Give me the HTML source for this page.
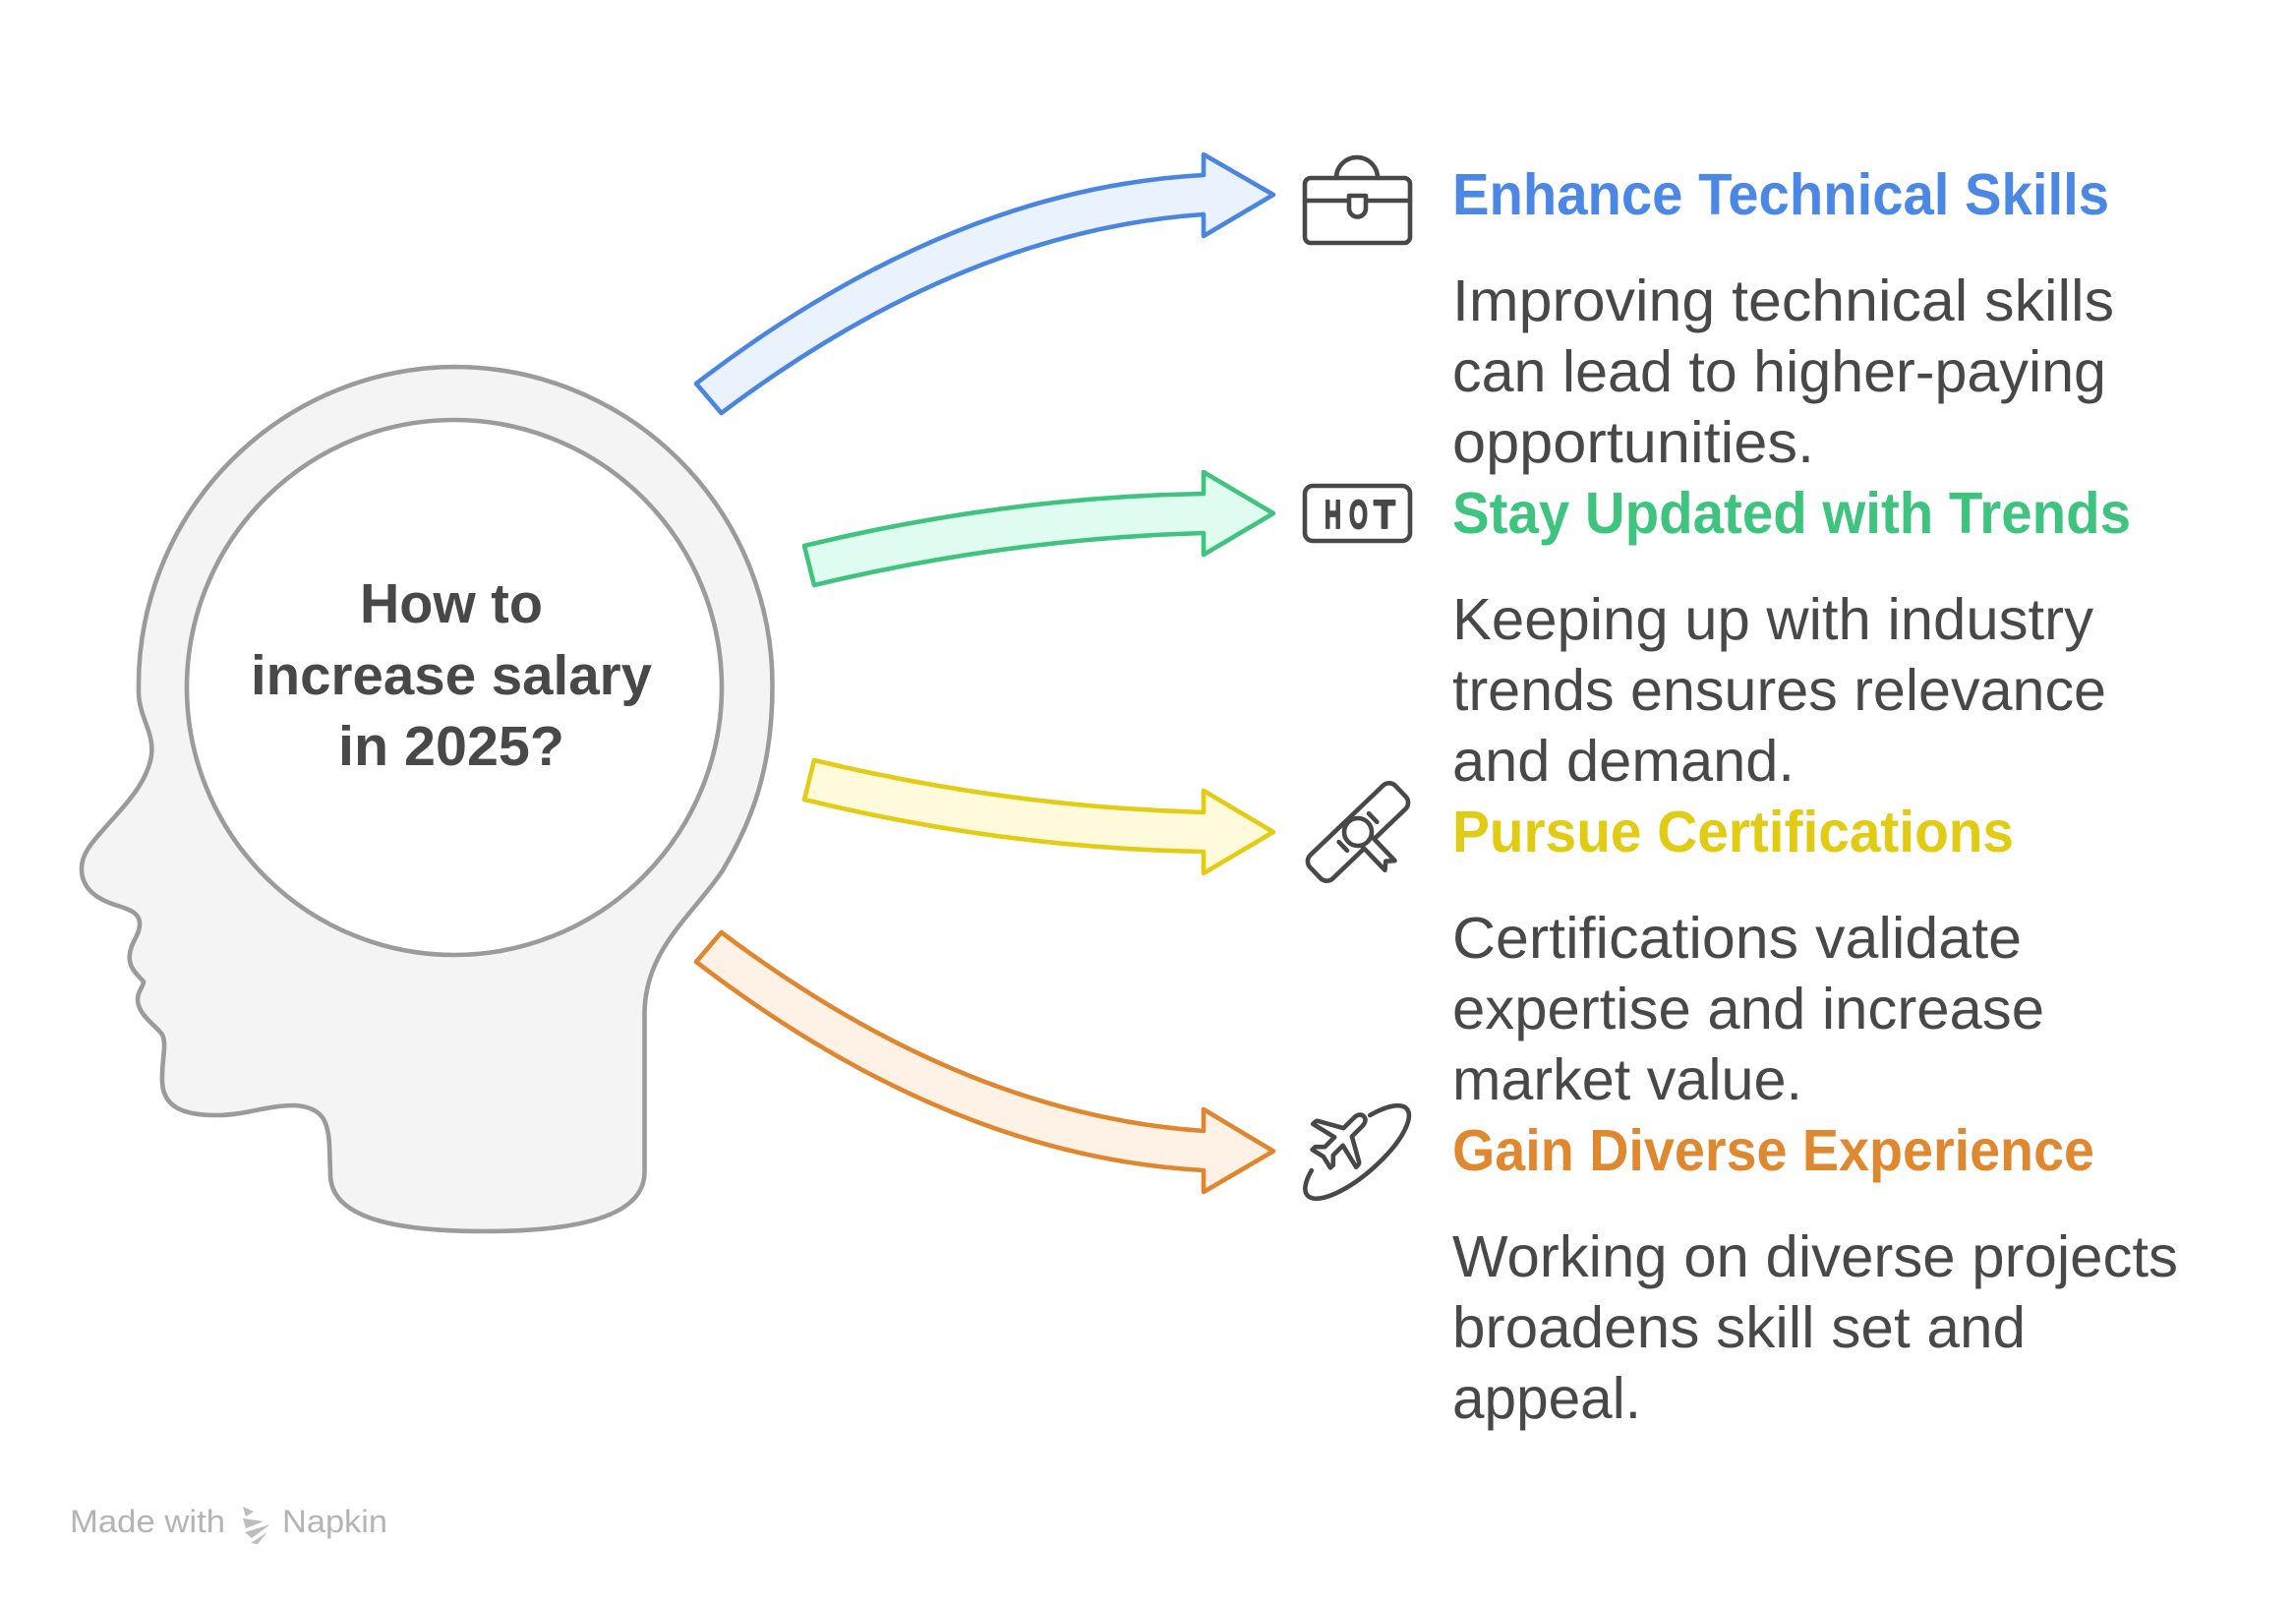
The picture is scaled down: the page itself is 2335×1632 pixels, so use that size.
<!DOCTYPE html>
<html>
<head>
<meta charset="utf-8">
<style>
html,body{margin:0;padding:0;background:#ffffff;width:2335px;height:1632px;overflow:hidden}
svg{display:block}
.t{font-family:"Liberation Sans",Arial,sans-serif;font-weight:700;font-size:59px}
.b{font-family:"Liberation Sans",Arial,sans-serif;font-weight:400;font-size:59px;fill:#484848}
.c{font-family:"Liberation Sans",Arial,sans-serif;font-weight:700;font-size:57px;fill:#484848}
.h{font-family:"Liberation Sans",Arial,sans-serif;font-weight:700;font-size:41px;fill:#484848;stroke:#484848;stroke-width:1.8;stroke-linejoin:round}
.ic{fill:none;stroke:#484848;stroke-width:4.6;stroke-linecap:round;stroke-linejoin:round}
</style>
</head>
<body>
<svg width="2335" height="1632" viewBox="0 0 2335 1632" xmlns="http://www.w3.org/2000/svg">
  <rect x="0" y="0" width="2335" height="1632" fill="#ffffff"/>

  <!-- Head -->
  <path d="M 462 373
           A 323.5 323.5 0 0 1 785.5 698
           C 785.5 780 765 835 735 885
           C 705 930 656 965 655.5 1030
           L 655.5 1192
           C 655.5 1236 590 1252 493 1252
           C 400 1252 336 1238 336 1194
           L 335 1165
           C 334 1140 328 1126 300 1124
           C 270 1124 250 1134 220 1134
           C 185 1134 166 1125 165 1100
           C 164 1080 170 1062 165 1052
           C 158 1042 140 1032 140 1016
           C 140 1008 146 1003 146 998
           C 138 990 130 982 132 970
           C 133 958 143 950 142 938
           C 141 928 132 925 120 921
           C 100 915 84 905 83 885
           C 82 868 95 855 110 838
           C 128 818 150 795 154 768
           C 157 745 142 730 141 705
           L 141 698
           A 323.5 323.5 0 0 1 462 373 Z"
        fill="#f4f4f4" stroke="#9b9b9b" stroke-width="4.6" stroke-linejoin="round"/>
  <circle cx="462" cy="699" r="272" fill="#ffffff" stroke="#9b9b9b" stroke-width="4.6"/>

  <text class="c" x="459" y="633" text-anchor="middle" textLength="186" lengthAdjust="spacingAndGlyphs">How to</text>
  <text class="c" x="459" y="706" text-anchor="middle" textLength="408" lengthAdjust="spacingAndGlyphs">increase salary</text>
  <text class="c" x="459" y="778" text-anchor="middle" textLength="230" lengthAdjust="spacingAndGlyphs">in 2025?</text>

  <!-- Arrows -->
  <path d="M 708 390 Q 966 192 1224 178 L 1224 157 L 1295 198 L 1224 240 L 1224 218 Q 979 235 733.6 420 Z"
        fill="#eaf2fe" stroke="#4a86e0" stroke-width="4.6" stroke-linejoin="round"/>
  <path d="M 818 555 Q 1021 505.5 1224 502 L 1224 480 L 1295 522 L 1224 564 L 1224 542 Q 1026 547.5 828 595 Z"
        fill="#e0fbef" stroke="#3ec47f" stroke-width="4.6" stroke-linejoin="round"/>
  <path d="M 828 773 Q 1026 820.5 1224 826 L 1224 804 L 1295 846 L 1224 888 L 1224 866 Q 1021 862.5 818 813 Z"
        fill="#fefadb" stroke="#e2cc14" stroke-width="4.6" stroke-linejoin="round"/>
  <path d="M 733.6 948 Q 979 1133 1224 1150 L 1224 1128 L 1295 1170.5 L 1224 1212 L 1224 1190 Q 966 1176 708 978 Z"
        fill="#fdf2e5" stroke="#e0862e" stroke-width="4.6" stroke-linejoin="round"/>

  <!-- Icon 1: briefcase -->
  <path class="ic" d="M1359 181 A21 21 0 0 1 1401 181"/>
  <rect class="ic" x="1327" y="181" width="107" height="66" rx="6"/>
  <line class="ic" x1="1327" y1="204" x2="1434" y2="204"/>
  <path d="M1372 199 L1389 199 L1389 212 A8.5 8.5 0 0 1 1372 212 Z" fill="#ffffff" stroke="#484848" stroke-width="4.6" stroke-linejoin="round"/>

  <!-- Icon 2: HOT -->
  <rect class="ic" x="1327" y="494" width="107" height="56" rx="8"/>
  <text class="h" x="1347" y="537" textLength="17" lengthAdjust="spacingAndGlyphs">H</text>
  <text class="h" x="1372" y="537" textLength="19" lengthAdjust="spacingAndGlyphs">O</text>
  <text class="h" x="1397" y="537" textLength="22" lengthAdjust="spacingAndGlyphs">T</text>

  <!-- Icon 3: diploma -->
  <g transform="translate(1381 846) rotate(-43.7)">
    <rect x="-60" y="-16.5" width="120" height="33" rx="9" fill="#ffffff" stroke="#484848" stroke-width="4.6" stroke-linejoin="round"/>
    <line class="ic" x1="-21" y1="-6" x2="-21" y2="6"/>
    <line class="ic" x1="21" y1="-6" x2="21" y2="6"/>
    <path d="M -7 8 L -7 47 L 0 41 L 7 47 L 7 8 Z" fill="#ffffff" stroke="#484848" stroke-width="4.6" stroke-linejoin="round"/>
    <circle cx="0" cy="0" r="14" fill="#ffffff" stroke="#484848" stroke-width="4.6"/>
  </g>

  <!-- Icon 4: airplane with orbit -->
  <g transform="translate(1381 1171) rotate(-41)">
    <path class="ic" d="M 33.5 -19.9 A 67 23 0 1 1 -48.2 -16.5"/>
  </g>
  <g transform="translate(1365 1157) rotate(45)">
    <path d="M 0 -31 C 4 -31 6 -27 6 -23 L 6 -8 L 29 5 Q 31 6 31 9 L 31 11 L 6 5 L 6 19 L 13 26 L 13 30 L 0 27 L -13 30 L -13 26 L -6 19 L -6 5 L -31 11 L -31 9 Q -31 6 -29 5 L -6 -8 L -6 -23 C -6 -27 -4 -31 0 -31 Z"
          fill="#ffffff" stroke="#484848" stroke-width="4.6" stroke-linejoin="round"/>
  </g>

  <!-- Section 1 -->
  <text class="t" x="1477" y="218" fill="#4b88e6" textLength="668" lengthAdjust="spacingAndGlyphs">Enhance Technical Skills</text>
  <text class="b" x="1477" y="326" textLength="673" lengthAdjust="spacingAndGlyphs">Improving technical skills</text>
  <text class="b" x="1477" y="398" textLength="665" lengthAdjust="spacingAndGlyphs">can lead to higher-paying</text>
  <text class="b" x="1477" y="470" textLength="368" lengthAdjust="spacingAndGlyphs">opportunities.</text>

  <!-- Section 2 -->
  <text class="t" x="1477" y="542" fill="#3ec47f" textLength="690" lengthAdjust="spacingAndGlyphs">Stay Updated with Trends</text>
  <text class="b" x="1477" y="650" textLength="652" lengthAdjust="spacingAndGlyphs">Keeping up with industry</text>
  <text class="b" x="1477" y="722" textLength="665" lengthAdjust="spacingAndGlyphs">trends ensures relevance</text>
  <text class="b" x="1477" y="794" textLength="348" lengthAdjust="spacingAndGlyphs">and demand.</text>

  <!-- Section 3 -->
  <text class="t" x="1477" y="866" fill="#e2cb13" textLength="571" lengthAdjust="spacingAndGlyphs">Pursue Certifications</text>
  <text class="b" x="1477" y="974" textLength="579" lengthAdjust="spacingAndGlyphs">Certifications validate</text>
  <text class="b" x="1477" y="1046" textLength="602" lengthAdjust="spacingAndGlyphs">expertise and increase</text>
  <text class="b" x="1477" y="1118" textLength="356" lengthAdjust="spacingAndGlyphs">market value.</text>

  <!-- Section 4 -->
  <text class="t" x="1477" y="1190" fill="#e0882f" textLength="653" lengthAdjust="spacingAndGlyphs">Gain Diverse Experience</text>
  <text class="b" x="1477" y="1298" textLength="738" lengthAdjust="spacingAndGlyphs">Working on diverse projects</text>
  <text class="b" x="1477" y="1370" textLength="583" lengthAdjust="spacingAndGlyphs">broadens skill set and</text>
  <text class="b" x="1477" y="1442" textLength="192" lengthAdjust="spacingAndGlyphs">appeal.</text>

  <!-- Watermark -->
  <text x="71" y="1558" font-family="'Liberation Sans',Arial,sans-serif" font-size="32" fill="#b4b4b4" textLength="158" lengthAdjust="spacingAndGlyphs">Made with</text>
  <path d="M247 1532 L258 1537 L250 1542 Z M247 1544 L268 1547 L250 1554 Z M249 1558 L275 1550 L256 1564 Z M255 1569 L272 1558 L262 1570 Z" fill="#bdbdbd"/>
  <text x="287" y="1558" font-family="'Liberation Sans',Arial,sans-serif" font-size="32" fill="#b4b4b4" textLength="107" lengthAdjust="spacingAndGlyphs">Napkin</text>
</svg>
</body>
</html>
